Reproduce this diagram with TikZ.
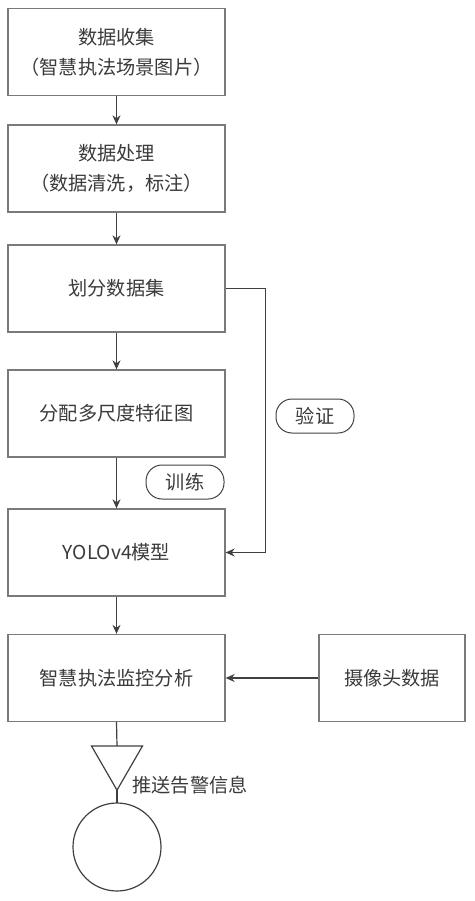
\documentclass[tikz,border=0pt]{standalone}
\usepackage{fontspec}
\setmainfont{Noto Sans CJK SC}
\usepackage{xcolor}
\usepackage{tikz}
\usetikzlibrary{arrows.meta}
\usetikzlibrary{shapes.geometric}

\definecolor{boxgray}{HTML}{7A7A7A}
\definecolor{linegray}{HTML}{404040}
\definecolor{txtgray}{HTML}{3A3A3A}

\begin{document}
\begin{tikzpicture}[x=1pt,y=-1pt,
		stepbox/.style={shape=rectangle,draw=boxgray,line width=1.3pt,minimum width=217pt,minimum height=87pt,inner sep=0pt,align=center,text=txtgray,font=\fontsize{19.2}{30}\selectfont},
		pill/.style={shape=rectangle,draw=linegray,line width=1pt,rounded corners=16pt,minimum width=78pt,minimum height=34pt,inner sep=0pt,text=txtgray,font=\fontsize{19.2}{22}\selectfont},
		arr/.style={-{Stealth[length=9pt,width=8pt]},line width=1.2pt,linegray}]
			\useasboundingbox (0,0) rectangle (474,901);
			\node[stepbox] (s1) at (116.5,52) {数据收集\\（智慧执法场景图片）};
			\node[stepbox] (s2) at (116.5,168.5) {数据处理\\（数据清洗，标注）};
			\node[stepbox] (s3) at (116.5,288.5) {划分数据集};
			\node[stepbox] (s4) at (116.5,413.5) {分配多尺度特征图};
			\node[stepbox] (s5) at (116.5,552.5) {YOLOv4模型};
			\node[stepbox] (s6) at (116.5,678) {智慧执法监控分析};
			\node[stepbox,minimum width=146pt] (cam) at (392,678) {摄像头数据};
			%% labels
			\node[pill] (val) at (315,416) {验证};
			\node[pill] (train) at (185,482) {训练};
			%% output
			\node[shape=regular polygon,regular polygon sides=3,shape border rotate=180,draw=linegray,line width=1.2pt,minimum size=58.9pt,inner sep=0pt,outer sep=0pt] (tri) at (117,760.7) {};
			\node[shape=circle,draw=linegray,line width=1.2pt,minimum size=88pt,inner sep=0pt,outer sep=0pt] (out) at (117,847) {};
			\node[anchor=west,text=txtgray,font=\fontsize{19.2}{22}\selectfont] (push) at (129,785) {推送告警信息};
			%% lines
			\draw[arr] (s1) -- (s2);
			\draw[arr] (s2) -- (s3);
			\draw[arr] (s3) -- (s4);
			\draw[arr] (s4) -- (s5);
			\draw[arr] (s5) -- (s6);
			\draw[arr] (s3.east) -- ++(40,0) |- (s5.east);
			\draw[arr] (cam) -- (s6);
			\draw[line width=1.2pt,linegray] (s6.south) -- (tri.north);
			\draw[line width=1.2pt,linegray] (tri.south) -- (out.north);
		\end{tikzpicture}
\end{document}
